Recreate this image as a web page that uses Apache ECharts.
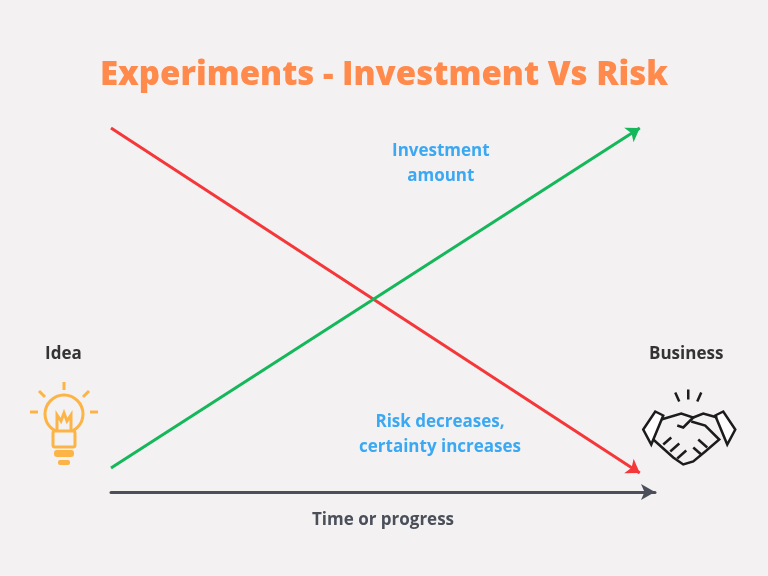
<!DOCTYPE html>
<html>
<head>
<meta charset="utf-8">
<script src="https://cdn.jsdelivr.net/npm/echarts@6/dist/echarts.min.js"></script>
<style>html,body{margin:0;background:#f3f1f1}#main{width:768px;height:576px}</style>
</head>
<body>
<div id="main"></div>
<script>
// line end points in chart units (0..100 on both axes)
var riskLine = [[0, 100], [97.2, 5.2]];
var investLine = [[0, 6.6], [97.2, 100]];
var titleText = 'Experiments - Investment Vs Risk';
var labels = {invest: 'Investment\namount', risk: 'Risk decreases,\ncertainty increases', x: 'Time or progress', start: 'Idea', end: 'Business'};

var myChart = echarts.init(document.getElementById('main'));
var bulb = '#fdb446', dark = '#1c1c1c', blue = '#3aa8f2';
var option = {
  backgroundColor: '#f3f1f1',
  title: {
    text: titleText, left: 'center', top: 54,
    textStyle: {color: '#ff8a4c', fontSize: 33, fontWeight: 800, fontFamily: 'Open Sans'}
  },
  grid: {left: 111, right: 113, top: 128, bottom: 84},
  xAxis: {
    type: 'value', min: 0, max: 100,
    axisLine: {show: true, symbol: ['none', 'arrow'], symbolSize: [12, 14], lineStyle: {color: '#4a4f5a', width: 3}},
    axisTick: {show: false}, axisLabel: {show: false}, splitLine: {show: false},
    name: labels.x, nameLocation: 'middle', nameGap: 20,
    nameTextStyle: {color: '#4a4f5a', fontSize: 17, fontWeight: 'bold', fontFamily: 'Open Sans', padding: [0, 0, 0, 0]}
  },
  yAxis: {type: 'value', min: 0, max: 100, show: false},
  series: [
    {type: 'lines', coordinateSystem: 'cartesian2d', symbol: ['none', 'arrow'], symbolSize: 13,
     lineStyle: {color: '#f5373a', width: 3, opacity: 1}, data: [{coords: riskLine}]},
    {type: 'lines', coordinateSystem: 'cartesian2d', symbol: ['none', 'arrow'], symbolSize: 13,
     lineStyle: {color: '#14b75a', width: 3, opacity: 1}, data: [{coords: investLine}]}
  ],
  graphic: [
    {type: 'text', left: 392, top: 139, style: {text: labels.invest, fill: blue, font: 'bold 17px Open Sans', textAlign: 'center', lineHeight: 25}},
    {type: 'text', left: 359, top: 410, style: {text: labels.risk, fill: blue, font: 'bold 17px Open Sans', textAlign: 'center', lineHeight: 25}},
    {type: 'text', left: 45, top: 346, style: {text: labels.start, fill: '#333', font: 'bold 17px Open Sans'}},
    {type: 'text', left: 649, top: 346, style: {text: labels.end, fill: '#333', font: 'bold 17px Open Sans'}},
    // lightbulb
    {type: 'group', x: 29, y: 381, scaleX: 1.0, scaleY: 1.0, children: [
      {type: 'circle', shape: {cx: 35, cy: 33, r: 19}, style: {fill: 'none', stroke: bulb, lineWidth: 3}},
      {type: 'rect', shape: {x: 24, y: 50, width: 22, height: 16, r: 2}, style: {fill: '#f3f1f1', stroke: bulb, lineWidth: 3}},
      {type: 'rect', shape: {x: 25, y: 69, width: 20, height: 7, r: 3}, style: {fill: bulb}},
      {type: 'rect', shape: {x: 29, y: 79, width: 12, height: 5, r: 2}, style: {fill: bulb}},
      {type: 'polyline', shape: {points: [[28, 50], [28, 34], [32, 40], [35, 32], [38, 40], [42, 34], [42, 50]]}, style: {fill: 'none', stroke: bulb, lineWidth: 3}},
      {type: 'line', shape: {x1: 35, y1: 1, x2: 35, y2: 9}, style: {stroke: bulb, lineWidth: 3}},
      {type: 'line', shape: {x1: 10, y1: 10, x2: 16, y2: 16}, style: {stroke: bulb, lineWidth: 3}},
      {type: 'line', shape: {x1: 60, y1: 10, x2: 54, y2: 16}, style: {stroke: bulb, lineWidth: 3}},
      {type: 'line', shape: {x1: 1, y1: 31, x2: 9, y2: 31}, style: {stroke: bulb, lineWidth: 3}},
      {type: 'line', shape: {x1: 61, y1: 31, x2: 69, y2: 31}, style: {stroke: bulb, lineWidth: 3}}
    ]},
    // handshake
    {type: 'group', left: 642, top: 387, children: [
      {type: 'line', shape: {x1: 45, y1: 0, x2: 45, y2: 10}, style: {stroke: dark, lineWidth: 2.5}},
      {type: 'line', shape: {x1: 32, y1: 3, x2: 36, y2: 12}, style: {stroke: dark, lineWidth: 2.5}},
      {type: 'line', shape: {x1: 58, y1: 3, x2: 54, y2: 12}, style: {stroke: dark, lineWidth: 2.5}},
      {type: 'polygon', shape: {points: [[0, 40], [12, 22], [20, 26], [8, 55]]}, style: {fill: '#fff', stroke: dark, lineWidth: 2.5}},
      {type: 'polygon', shape: {points: [[92, 40], [80, 22], [72, 26], [84, 55]]}, style: {fill: '#fff', stroke: dark, lineWidth: 2.5}},
      {type: 'polyline', shape: {points: [[18, 30], [38, 24], [50, 28], [40, 38], [34, 36]]}, style: {fill: 'none', stroke: dark, lineWidth: 2.5}},
      {type: 'polyline', shape: {points: [[74, 28], [60, 24], [50, 28]]}, style: {fill: 'none', stroke: dark, lineWidth: 2.5}},
      {type: 'polyline', shape: {points: [[10, 50], [30, 68], [40, 75], [50, 72], [62, 62], [76, 50], [62, 36], [48, 32]]}, style: {fill: 'none', stroke: dark, lineWidth: 2.5}},
      {type: 'line', shape: {x1: 20, y1: 55, x2: 28, y2: 48}, style: {stroke: dark, lineWidth: 2.5}},
      {type: 'line', shape: {x1: 27, y1: 62, x2: 36, y2: 54}, style: {stroke: dark, lineWidth: 2.5}},
      {type: 'line', shape: {x1: 34, y1: 69, x2: 43, y2: 61}, style: {stroke: dark, lineWidth: 2.5}},
      {type: 'line', shape: {x1: 55, y1: 50, x2: 64, y2: 58}, style: {stroke: dark, lineWidth: 2.5}},
      {type: 'line', shape: {x1: 50, y1: 58, x2: 58, y2: 65}, style: {stroke: dark, lineWidth: 2.5}}
    ]}
  ]
};
myChart.setOption(option);
</script>
</body>
</html>
